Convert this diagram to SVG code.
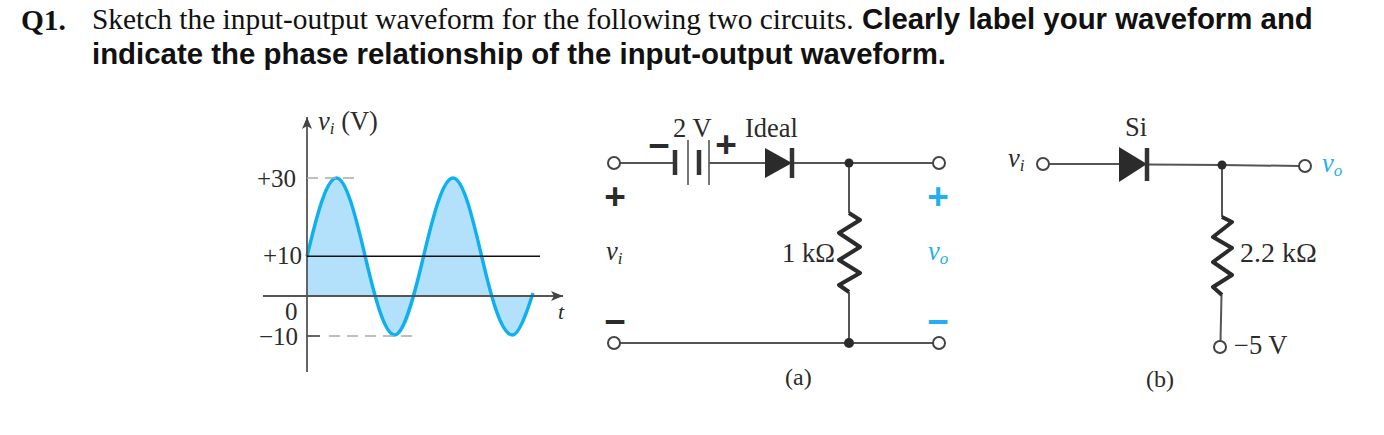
<svg xmlns="http://www.w3.org/2000/svg" width="1384" height="435" viewBox="0 0 1384 435">
<style>
text{font-family:"Liberation Serif","Times New Roman",serif;fill:#2b2b2b}
.lb{font-size:25px}
.c{font-size:26.5px}
.cap{font-size:24px}
.q{font-size:29.4px;fill:#111}
.b{font-family:"Liberation Sans",Arial,sans-serif;font-weight:700;font-size:29.4px;fill:#111}
.it{font-style:italic}
.sub{font-style:italic;font-size:17px}
.blue{fill:#22aef0}
.sym{font-family:"Liberation Sans",Arial,sans-serif;font-weight:700;font-size:37px;text-anchor:middle}
.w{fill:none;stroke:#555;stroke-width:2}
.ax{fill:none;stroke:#555;stroke-width:1.8}
.dash{fill:none;stroke:#aaa;stroke-width:1.5;stroke-dasharray:11 7}
.t{fill:#fff;stroke:#444;stroke-width:2}
.dot{fill:#2b2b2b}
.res{fill:none;stroke:#2b2b2b;stroke-width:4;stroke-linejoin:round}
.thin{fill:none;stroke:#555;stroke-width:1.6}
.thick{fill:none;stroke:#333;stroke-width:4.5}
.d{fill:#2b2b2b}
</style>
<defs>
<marker id="arr" markerUnits="userSpaceOnUse" markerWidth="12" markerHeight="10" refX="12" refY="5" orient="auto"><path d="M0 0L12 5L0 10L3 5Z" fill="#444"/></marker>
</defs>

<g id="question">
<text class="q" x="21" y="30" style="font-weight:700">Q1.</text>
<text class="q" x="92" y="29">Sketch the input-output waveform for the following two circuits.</text>
<text class="b" x="862" y="29">Clearly label your waveform and</text>
<text class="b" x="92" y="64">indicate the phase relationship of the input-output waveform.</text>
</g>

<g id="waveform">
<path d="M307 256.5C316.7 215.4 326.5 178 336.5 178C346 178 355.5 215.4 365.2 256.5C374.9 297.6 384.6 335 394.6 335C404 335 413.8 297.6 423.5 256.5C433.2 215.4 443 178 453 178C463 178 472 215.4 481.7 256.5C491.4 297.6 501.1 335 512.5 335C519 335 527 312 533 293L533 296L307 296Z" fill="#b3e1fc"/>
<path d="M307 256.5C316.7 215.4 326.5 178 336.5 178C346 178 355.5 215.4 365.2 256.5C374.9 297.6 384.6 335 394.6 335C404 335 413.8 297.6 423.5 256.5C433.2 215.4 443 178 453 178C463 178 472 215.4 481.7 256.5C491.4 297.6 501.1 335 512.5 335C519 335 527 312 533 293" fill="none" stroke="#0fb0f0" stroke-width="3.4"/>
<path class="ax" d="M307 372V117" marker-end="url(#arr)"/>
<path class="ax" d="M263 296H563" marker-end="url(#arr)"/>
<path d="M307 256.3H540" fill="none" stroke="#111" stroke-width="1.4"/>
<path class="dash" d="M307 178H358"/>
<path class="ax" d="M307 336H320"/>
<path class="dash" d="M329 336H415"/>
<text class="lb" x="257" y="187">+30</text>
<text class="lb" x="263" y="264">+10</text>
<text class="lb" x="285" y="320">0</text>
<text class="lb" x="259" y="345">−10</text>
<text class="it" x="558" y="319" style="font-size:22px">t</text>
<text class="c" x="318" y="130"><tspan class="it">v</tspan><tspan class="sub" dy="4">i</tspan><tspan dy="-4"> (V)</tspan></text>
</g>

<g id="connectors">
<path class="w" d="M620 163H675M709 163H765M792 163H933"/>
<path class="w" d="M620 343H933"/>
<path class="w" d="M849 163V213M849 292V343"/>
<path class="w" d="M1049 164H1119M1147 164.500L1222 165L1299 166"/>
<path class="w" d="M1222 165V217M1221.500 295L1220.500 341"/>
</g>

<g id="circuit-a-input"><circle class="t" cx="614" cy="163" r="6"/><circle class="t" cx="614" cy="343" r="6"/>
<text class="sym" x="615" y="209">+</text><text class="sym" x="615" y="334">−</text>
<text class="c" x="606" y="260"><tspan class="it">v</tspan><tspan class="sub" dy="4">i</tspan></text></g>
<g id="circuit-a-battery">
<path class="thick" d="M675 150V175M699 150V175"/><path class="thin" d="M688 140V185M709 140V185"/>
<text class="c" x="673" y="137">2 V</text>
<text class="sym" x="659" y="158">−</text><text class="sym" x="726" y="157">+</text></g>
<g id="circuit-a-diode"><path class="d" d="M765 148L792 163L765 178Z"/><path class="thick" d="M792 148V178"/>
<text class="c" x="745" y="137">Ideal</text></g>
<g id="circuit-a-resistor"><path class="res" d="M849 213L860 220L839 233L860 247L839 260L860 273L839 285L849 292"/>
<text class="c" x="782" y="262">1 kΩ</text></g>
<g id="circuit-a-output"><circle class="dot" cx="849" cy="163" r="4.500"/><circle class="dot" cx="849" cy="343" r="5"/>
<circle class="t" cx="939" cy="163" r="6"/><circle class="t" cx="939" cy="343" r="6"/>
<text class="sym blue" x="938" y="209">+</text><text class="sym blue" x="938" y="334">−</text>
<text class="c blue" x="928" y="260"><tspan class="it">v</tspan><tspan class="sub blue" dy="4">o</tspan></text></g>
<text class="cap" x="785" y="385">(a)</text>

<g id="circuit-b-input"><circle class="t" cx="1043" cy="164" r="6"/>
<text class="c" x="1008" y="167"><tspan class="it">v</tspan><tspan class="sub" dy="4">i</tspan></text></g>
<g id="circuit-b-diode"><path class="d" d="M1119 147L1147 164L1119 182Z"/><path class="thick" d="M1147 148V181"/>
<text class="c" x="1125" y="136">Si</text></g>
<g id="circuit-b-resistor"><circle class="dot" cx="1222" cy="165" r="4.500"/><path class="res" d="M1222 217L1232 222L1213 237L1232 248L1213 262L1232 275L1213 287L1222 295"/>
<text class="c" x="1240" y="262" style="font-size:28px">2.2 kΩ</text></g>
<g id="circuit-b-output"><circle class="t" cx="1305" cy="166" r="6"/>
<text class="c blue" x="1322" y="172"><tspan class="it">v</tspan><tspan class="sub blue" dy="4">o</tspan></text></g>
<g id="circuit-b-supply"><circle class="t" cx="1220" cy="347" r="6"/><text class="c" x="1234" y="354">−5 V</text></g>
<text class="cap" x="1146" y="387">(b)</text>
</svg>
